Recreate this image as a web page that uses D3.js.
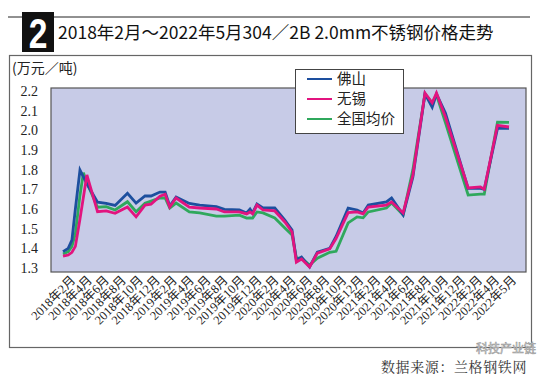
<!DOCTYPE html>
<html>
<head>
<meta charset="utf-8">
<script src="https://cdn.jsdelivr.net/npm/d3@7"></script>
<style>
  body { margin: 0; background: #fff; }
  svg { display: block; }
</style>
</head>
<body>
<svg id="chart" width="554" height="379"></svg>
<script>
// sample dates (where the lines bend)
var dates = ["2018-02-01","2018-02-19","2018-03-04","2018-03-16","2018-04-01","2018-04-13","2018-04-25",
  "2018-06-01","2018-07-01","2018-08-01","2018-09-13","2018-10-13","2018-11-13","2018-12-04",
  "2019-01-04","2019-01-22","2019-02-07","2019-03-01","2019-04-16","2019-05-22","2019-07-19",
  "2019-08-16","2019-10-07","2019-11-01","2019-11-13","2019-11-22","2019-12-07","2019-12-28",
  "2020-02-07","2020-03-13","2020-04-07","2020-04-22","2020-05-10","2020-06-07","2020-07-04",
  "2020-08-16","2020-09-07","2020-10-19","2020-11-19","2020-12-10","2020-12-28","2021-03-01",
  "2021-03-19","2021-04-28","2021-06-01","2021-07-13","2021-08-07","2021-08-22","2021-09-22",
  "2021-12-10","2022-01-22","2022-02-04","2022-03-22","2022-05-01"];

var foshan = [1.383,1.40,1.442,1.60,1.798,1.763,1.728,
  1.635,1.629,1.618,1.68,1.63,1.666,1.666,
  1.686,1.686,1.615,1.661,1.628,1.62,1.612,
  1.598,1.595,1.58,1.60,1.58,1.625,1.605,
  1.605,1.544,1.493,1.341,1.356,1.305,1.381,
  1.40,1.46,1.605,1.595,1.58,1.62,1.636,
  1.656,1.57,1.763,2.185,2.118,2.185,2.088,
  1.705,1.705,1.70,2.01,2.01];

var wuxi = [1.36,1.366,1.38,1.41,1.549,1.661,1.773,
  1.586,1.59,1.578,1.61,1.56,1.62,1.625,
  1.665,1.675,1.61,1.656,1.61,1.605,1.60,
  1.585,1.585,1.575,1.585,1.575,1.62,1.595,
  1.59,1.534,1.483,1.33,1.346,1.305,1.376,
  1.397,1.45,1.582,1.585,1.575,1.61,1.62,
  1.636,1.58,1.773,2.19,2.14,2.19,2.068,
  1.707,1.712,1.70,2.025,2.017];

var national = [1.371,1.383,1.41,1.475,1.669,1.785,1.733,
  1.609,1.612,1.595,1.637,1.586,1.629,1.64,
  1.656,1.656,1.605,1.63,1.585,1.58,1.564,
  1.564,1.569,1.554,1.555,1.554,1.585,1.58,
  1.554,1.503,1.468,1.351,1.35,1.315,1.35,
  1.38,1.385,1.529,1.56,1.555,1.585,1.605,
  1.63,1.57,1.80,2.185,2.14,2.18,2.04,
  1.671,1.676,1.676,2.042,2.04];

var seriesNames = ["佛山", "无锡", "全国均价"];
var seriesColors = ["#1d4f9e", "#e2147f", "#2fa85c"];

var xLabels = ["2018年2月","2018年4月","2018年6月","2018年8月","2018年10月","2018年12月",
  "2019年2月","2019年4月","2019年6月","2019年8月","2019年10月","2019年12月",
  "2020年2月","2020年4月","2020年6月","2020年8月","2020年10月","2020年12月",
  "2021年2月","2021年4月","2021年6月","2021年8月","2021年10月","2021年12月",
  "2022年2月","2022年4月","2022年5月"];
var yTicks = [1.3,1.4,1.5,1.6,1.7,1.8,1.9,2.0,2.1,2.2];

var svg = d3.select("#chart");
var parse = d3.timeParse("%Y-%m-%d");

var plot = {left: 51, right: 526, top: 88, bottom: 272};

var x = d3.scaleTime()
  .domain([parse("2018-02-01"), parse("2022-05-01")])
  .range([63, 509]);
var y = d3.scaleLinear()
  .domain([1.3, 2.2])
  .range([268, 91]);
var xl = d3.scalePoint().domain(xLabels).range([76, 517]);

// title bar
svg.append("line").attr("x1", 8).attr("x2", 530).attr("y1", 17).attr("y2", 17)
  .attr("stroke", "#222").attr("stroke-width", 1);
svg.append("rect").attr("x", 22).attr("y", 12).attr("width", 32).attr("height", 40).attr("fill", "#111");
svg.append("text").attr("x", 38).attr("y", 48).attr("text-anchor", "middle")
  .attr("font-family", "Liberation Sans Narrow, Liberation Sans, sans-serif").attr("font-weight", "bold")
  .attr("font-size", 42).attr("fill", "#fff").attr("transform", "translate(38,48) scale(0.8,1) translate(-38,-48)")
  .text("2");
svg.append("text").attr("x", 58).attr("y", 39)
  .attr("font-family", "Noto Sans CJK SC, sans-serif").attr("font-size", 17.5).attr("fill", "#111")
  .text("2018年2月～2022年5月304／2B 2.0mm不锈钢价格走势");

// outer frame
svg.append("rect").attr("x", 9.5).attr("y", 55.5).attr("width", 522).attr("height", 292)
  .attr("fill", "none").attr("stroke", "#666").attr("stroke-width", 1.2);

// unit
svg.append("text").attr("x", 12).attr("y", 73)
  .attr("font-family", "Noto Sans CJK SC, sans-serif").attr("font-size", 14).attr("fill", "#222")
  .text("(万元／吨)");

// plot area
svg.append("rect").attr("x", plot.left).attr("y", plot.top)
  .attr("width", plot.right - plot.left).attr("height", plot.bottom - plot.top)
  .attr("fill", "#c7cbe7").attr("stroke", "#555").attr("stroke-width", 1.2);

// y tick labels
svg.append("g").selectAll("text").data(yTicks).join("text")
  .attr("x", 38).attr("y", function(d) { return y(d) + 5; })
  .attr("text-anchor", "end")
  .attr("font-family", "Liberation Serif, serif").attr("font-size", 14).attr("fill", "#222")
  .text(function(d) { return d.toFixed(1); });

// x labels
svg.append("g").selectAll("text").data(xLabels).join("text")
  .attr("transform", function(d) { return "translate(" + xl(d) + ",281) rotate(-45)"; })
  .attr("text-anchor", "end")
  .attr("font-family", "Liberation Serif, Noto Sans CJK SC, serif").attr("font-size", 12.5).attr("fill", "#222")
  .text(function(d) { return d; });

// lines
var all = [foshan, wuxi, national];
var line = d3.line()
  .x(function(d, i) { return x(parse(dates[i])); })
  .y(function(d) { return y(d); });

[2, 0, 1].forEach(function(k) {
  svg.append("path").datum(all[k])
    .attr("d", line)
    .attr("fill", "none")
    .attr("stroke", seriesColors[k])
    .attr("stroke-width", 2.8)
    .attr("stroke-linejoin", "miter");
});

// legend
var lg = svg.append("g");
lg.append("rect").attr("x", 295.5).attr("y", 69.5).attr("width", 108).attr("height", 64)
  .attr("fill", "#fff").attr("stroke", "#444").attr("stroke-width", 1);
seriesNames.forEach(function(n, i) {
  var cy = 79 + i * 20;
  lg.append("line").attr("x1", 307).attr("x2", 332).attr("y1", cy).attr("y2", cy)
    .attr("stroke", seriesColors[i]).attr("stroke-width", 2);
  lg.append("text").attr("x", 337).attr("y", cy + 5)
    .attr("font-family", "Noto Sans CJK SC, sans-serif").attr("font-size", 14.5).attr("fill", "#222")
    .text(n);
});

// source
svg.append("text").attr("x", 527).attr("y", 372).attr("text-anchor", "end")
  .attr("font-family", "Noto Serif CJK SC, Noto Sans CJK SC, serif").attr("font-size", 14)
  .attr("letter-spacing", 0.6).attr("fill", "#333")
  .text("数据来源：兰格钢铁网");

// watermark
svg.append("text").attr("x", 536).attr("y", 353).attr("text-anchor", "end")
  .attr("font-family", "Noto Sans CJK SC, sans-serif").attr("font-size", 12)
  .attr("fill", "#f4f4f4").attr("stroke", "#9a9a9a").attr("stroke-width", 0.6)
  .text("科技产业链");
</script>
</body>
</html>
